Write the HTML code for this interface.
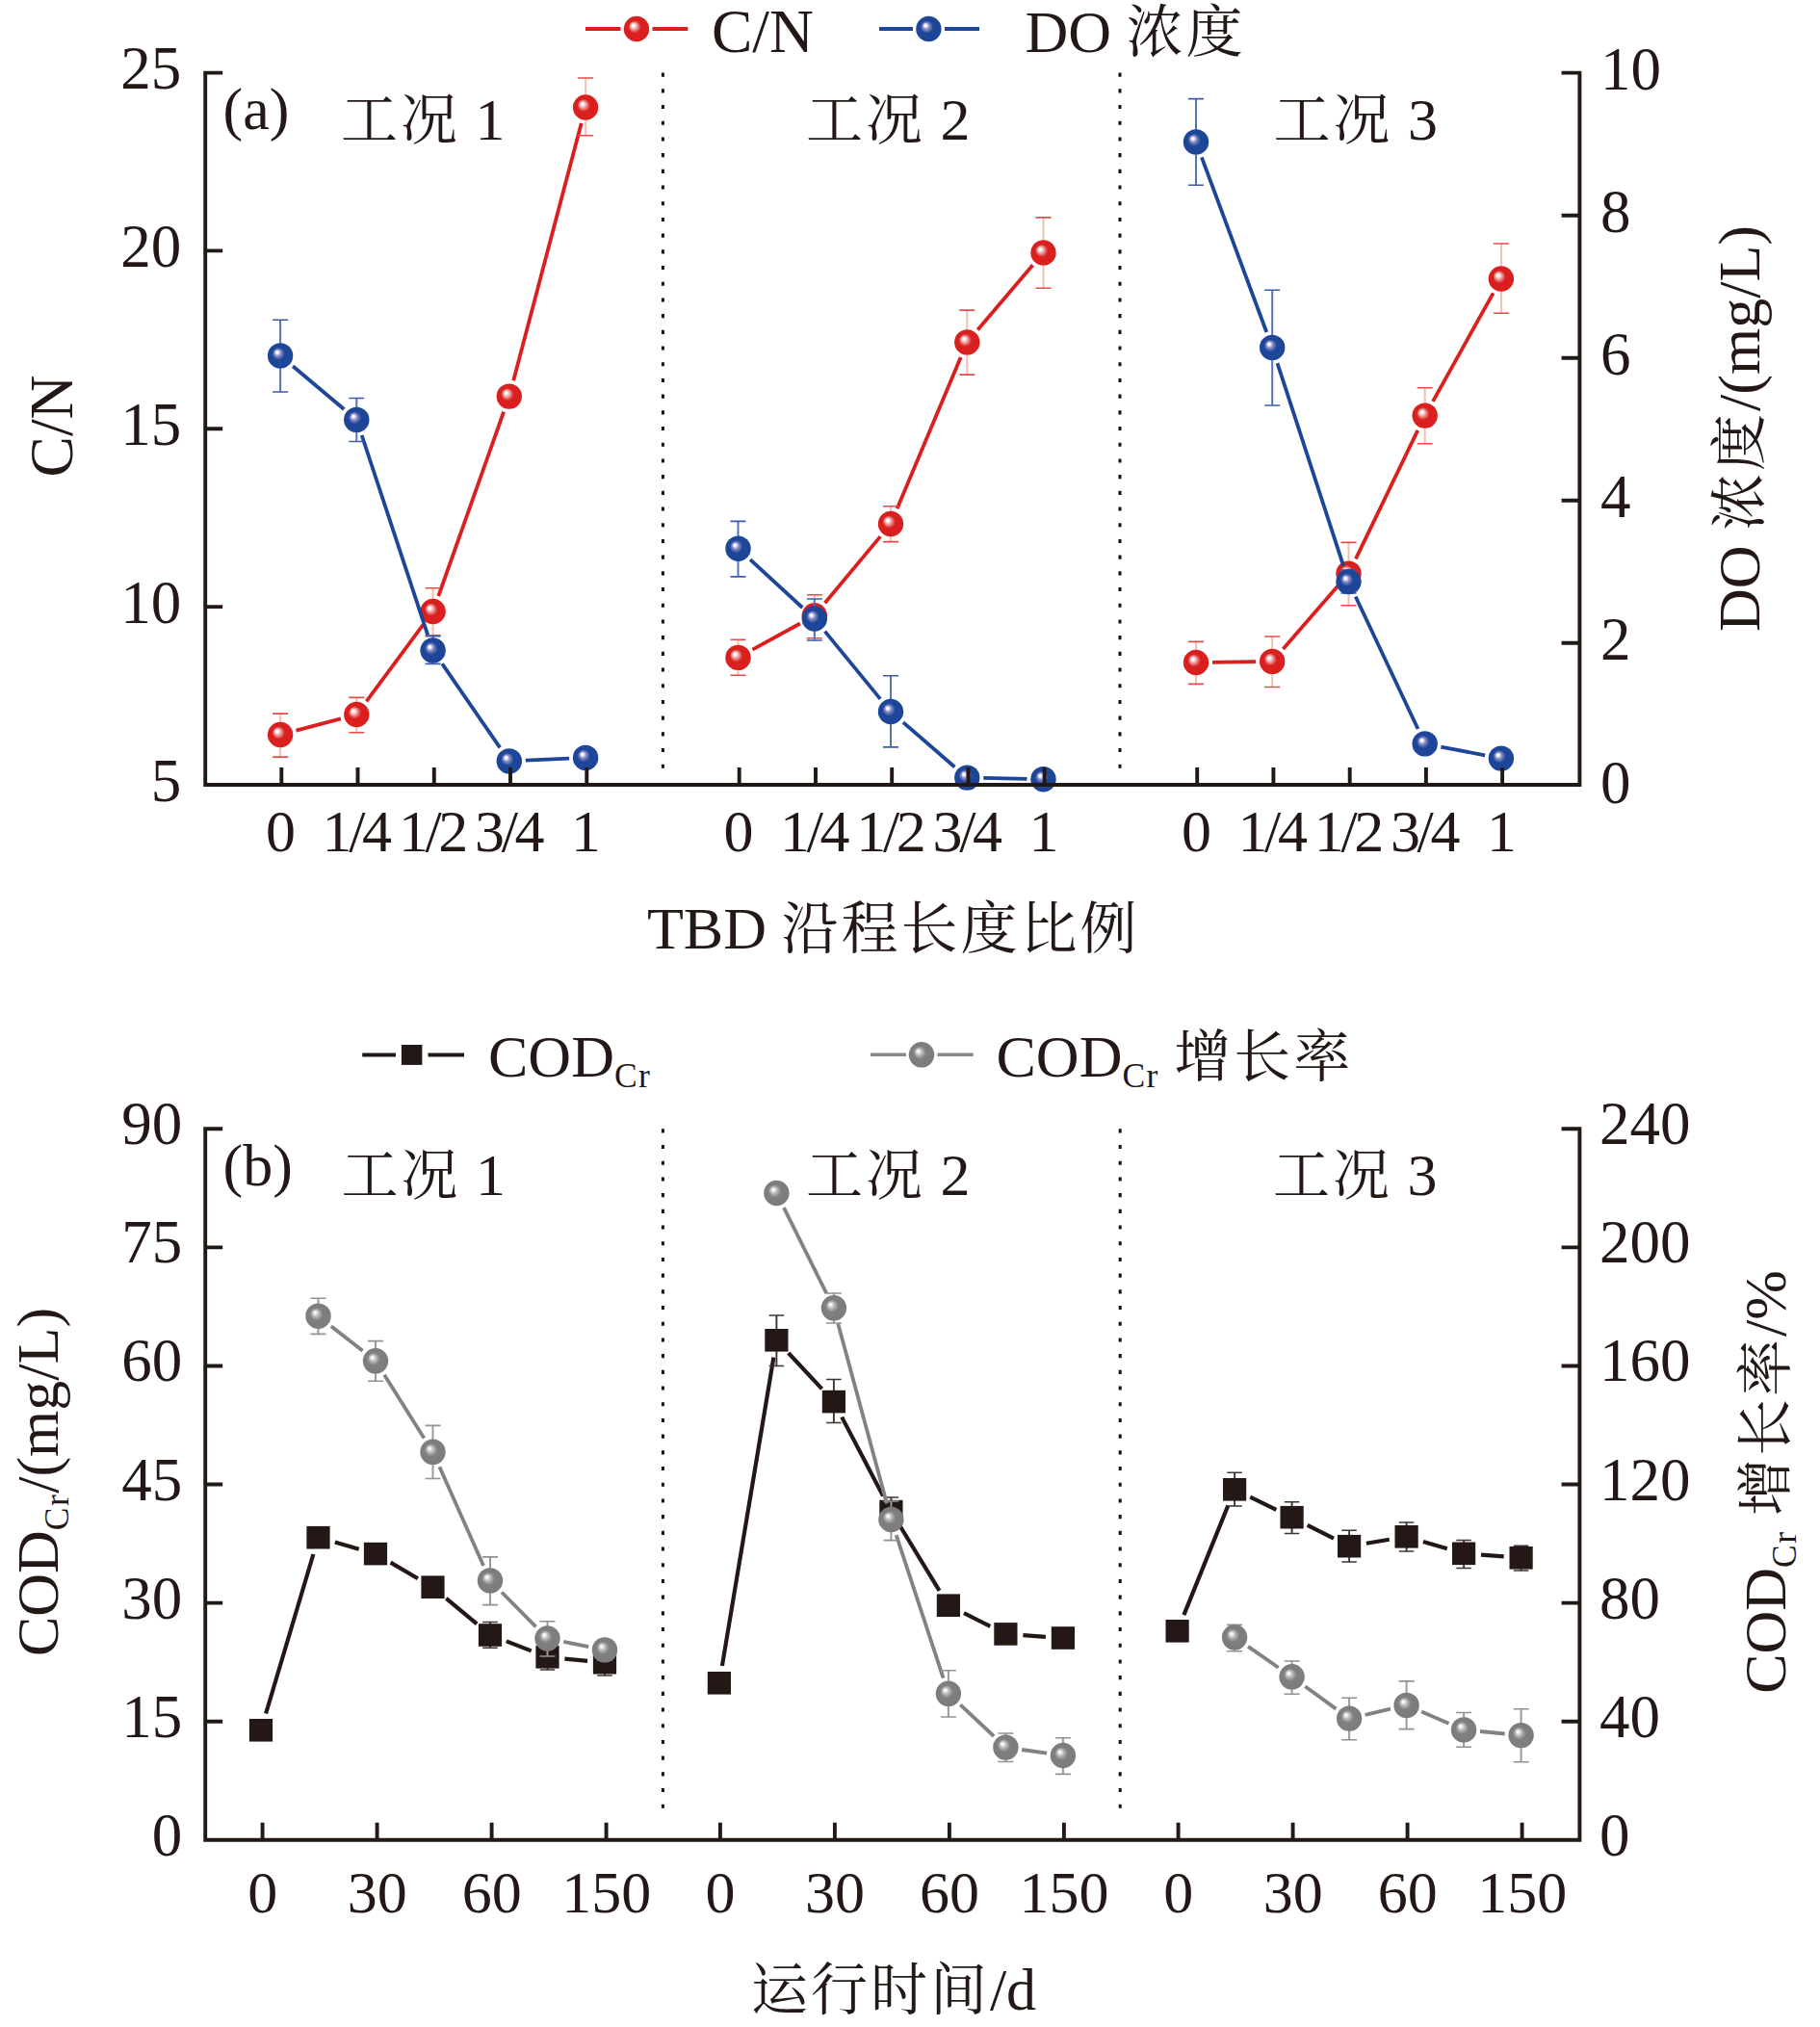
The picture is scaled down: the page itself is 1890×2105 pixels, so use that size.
<!DOCTYPE html>
<html lang="zh"><head><meta charset="utf-8"><title>C/N, DO, COD chart</title>
<style>html,body{margin:0;padding:0;background:#fff}svg{display:block}text{font-family:'Liberation Serif','Noto Serif CJK SC',serif;fill:#231815}</style></head><body>
<svg width="1890" height="2105" viewBox="0 0 1890 2105">
<rect width="1890" height="2105" fill="#fff"/>
<defs>
<radialGradient id="gr" cx="0.5" cy="0.5" r="0.5" fx="0.36" fy="0.35"><stop offset="0" stop-color="#ffffff"/><stop offset="0.09" stop-color="#ffffff"/><stop offset="0.25" stop-color="#f1a6a6"/><stop offset="0.5" stop-color="#d9201f"/><stop offset="1" stop-color="#d9201f"/></radialGradient>
<radialGradient id="gb" cx="0.5" cy="0.5" r="0.5" fx="0.36" fy="0.35"><stop offset="0" stop-color="#ffffff"/><stop offset="0.09" stop-color="#ffffff"/><stop offset="0.25" stop-color="#8f8fca"/><stop offset="0.5" stop-color="#1d4698"/><stop offset="1" stop-color="#1d4698"/></radialGradient>
<radialGradient id="gg" cx="0.5" cy="0.5" r="0.5" fx="0.36" fy="0.35"><stop offset="0" stop-color="#f6f6f6"/><stop offset="0.09" stop-color="#f6f6f6"/><stop offset="0.25" stop-color="#bcbcbc"/><stop offset="0.5" stop-color="#7f7f7f"/><stop offset="1" stop-color="#7c7c7c"/></radialGradient>
</defs>
<line x1="688.4" y1="75.6" x2="688.4" y2="800" stroke="#111" stroke-width="3" stroke-dasharray="4.1 12.6"/>
<line x1="1163" y1="75.6" x2="1163" y2="800" stroke="#111" stroke-width="3" stroke-dasharray="4.1 12.6"/>
<g>
<line x1="307.5" y1="758.6" x2="353.9" y2="746.4" stroke="#d9201f" stroke-width="3.8"/>
<line x1="380.5" y1="728.3" x2="439.5" y2="648.7" stroke="#d9201f" stroke-width="3.8"/>
<line x1="455.3" y1="619" x2="523.1" y2="427.6" stroke="#d9201f" stroke-width="3.8"/>
<line x1="533.2" y1="395.2" x2="603.7" y2="127.9" stroke="#d9201f" stroke-width="3.8"/>
<line x1="781.4" y1="674.7" x2="830.9" y2="647.5" stroke="#d9201f" stroke-width="3.8"/>
<line x1="856.6" y1="626.2" x2="914.2" y2="557.1" stroke="#d9201f" stroke-width="3.8"/>
<line x1="931.6" y1="528.3" x2="997.7" y2="371.1" stroke="#d9201f" stroke-width="3.8"/>
<line x1="1015.3" y1="342.5" x2="1072.5" y2="275.3" stroke="#d9201f" stroke-width="3.8"/>
<line x1="1259" y1="687.8" x2="1304.2" y2="687.1" stroke="#d9201f" stroke-width="3.8"/>
<line x1="1332.4" y1="674.1" x2="1389.3" y2="608.5" stroke="#d9201f" stroke-width="3.8"/>
<line x1="1407.9" y1="580.4" x2="1472.3" y2="446.9" stroke="#d9201f" stroke-width="3.8"/>
<line x1="1488" y1="416.8" x2="1550.7" y2="304.3" stroke="#d9201f" stroke-width="3.8"/>
<path d="M291.1 741.1V786.1" stroke="#f4bfae" stroke-width="2.0" fill="none"/>
<path d="M283.1 741.1H299.1M283.1 786.1H299.1" stroke="#e84a4c" stroke-width="1.6" fill="none"/>
<path d="M370.3 724.4V760.8" stroke="#f4bfae" stroke-width="2.0" fill="none"/>
<path d="M362.3 724.4H378.3M362.3 760.8H378.3" stroke="#e84a4c" stroke-width="1.6" fill="none"/>
<path d="M449.6 610.8V659.8" stroke="#f4bfae" stroke-width="2.0" fill="none"/>
<path d="M441.6 610.8H457.6M441.6 659.8H457.6" stroke="#e84a4c" stroke-width="1.6" fill="none"/>
<path d="M528.8 404V419" stroke="#f4bfae" stroke-width="2.0" fill="none"/>
<path d="M520.8 404H536.8M520.8 419H536.8" stroke="#e84a4c" stroke-width="1.6" fill="none"/>
<path d="M608.1 81V140.8" stroke="#f4bfae" stroke-width="2.0" fill="none"/>
<path d="M600.1 81H616.1M600.1 140.8H616.1" stroke="#e84a4c" stroke-width="1.6" fill="none"/>
<path d="M766.5 664.3V701.2" stroke="#f4bfae" stroke-width="2.0" fill="none"/>
<path d="M758.5 664.3H774.5M758.5 701.2H774.5" stroke="#e84a4c" stroke-width="1.6" fill="none"/>
<path d="M845.8 617.8V662.7" stroke="#f4bfae" stroke-width="2.0" fill="none"/>
<path d="M837.8 617.8H853.8M837.8 662.7H853.8" stroke="#e84a4c" stroke-width="1.6" fill="none"/>
<path d="M925 525.7V562.6" stroke="#f4bfae" stroke-width="2.0" fill="none"/>
<path d="M917 525.7H933M917 562.6H933" stroke="#e84a4c" stroke-width="1.6" fill="none"/>
<path d="M1004.3 322.1V389.1" stroke="#f4bfae" stroke-width="2.0" fill="none"/>
<path d="M996.3 322.1H1012.3M996.3 389.1H1012.3" stroke="#e84a4c" stroke-width="1.6" fill="none"/>
<path d="M1083.5 225.9V299.3" stroke="#f4bfae" stroke-width="2.0" fill="none"/>
<path d="M1075.5 225.9H1091.5M1075.5 299.3H1091.5" stroke="#e84a4c" stroke-width="1.6" fill="none"/>
<path d="M1242 666.4V710.4" stroke="#f4bfae" stroke-width="2.0" fill="none"/>
<path d="M1234 666.4H1250M1234 710.4H1250" stroke="#e84a4c" stroke-width="1.6" fill="none"/>
<path d="M1321.2 661V713.5" stroke="#f4bfae" stroke-width="2.0" fill="none"/>
<path d="M1313.2 661H1329.2M1313.2 713.5H1329.2" stroke="#e84a4c" stroke-width="1.6" fill="none"/>
<path d="M1400.5 563.4V628.8" stroke="#f4bfae" stroke-width="2.0" fill="none"/>
<path d="M1392.5 563.4H1408.5M1392.5 628.8H1408.5" stroke="#e84a4c" stroke-width="1.6" fill="none"/>
<path d="M1479.7 402.7V460.8" stroke="#f4bfae" stroke-width="2.0" fill="none"/>
<path d="M1471.7 402.7H1487.7M1471.7 460.8H1487.7" stroke="#e84a4c" stroke-width="1.6" fill="none"/>
<path d="M1558.9 253V325.2" stroke="#f4bfae" stroke-width="2.0" fill="none"/>
<path d="M1550.9 253H1566.9M1550.9 325.2H1566.9" stroke="#e84a4c" stroke-width="1.6" fill="none"/>
<circle cx="291.1" cy="763" r="13.2" fill="url(#gr)"/>
<circle cx="370.3" cy="742" r="13.2" fill="url(#gr)"/>
<circle cx="449.6" cy="635" r="13.2" fill="url(#gr)"/>
<circle cx="528.8" cy="411.6" r="13.2" fill="url(#gr)"/>
<circle cx="608.1" cy="111.5" r="13.2" fill="url(#gr)"/>
<circle cx="766.5" cy="682.9" r="13.2" fill="url(#gr)"/>
<circle cx="845.8" cy="639.3" r="13.2" fill="url(#gr)"/>
<circle cx="925" cy="544" r="13.2" fill="url(#gr)"/>
<circle cx="1004.3" cy="355.4" r="13.2" fill="url(#gr)"/>
<circle cx="1083.5" cy="262.4" r="13.2" fill="url(#gr)"/>
<circle cx="1242" cy="688" r="13.2" fill="url(#gr)"/>
<circle cx="1321.2" cy="686.9" r="13.2" fill="url(#gr)"/>
<circle cx="1400.5" cy="595.7" r="13.2" fill="url(#gr)"/>
<circle cx="1479.7" cy="431.6" r="13.2" fill="url(#gr)"/>
<circle cx="1558.9" cy="289.5" r="13.2" fill="url(#gr)"/>
</g>
<g>
<line x1="304.1" y1="380.3" x2="357.3" y2="425" stroke="#1d4698" stroke-width="3.8"/>
<line x1="375.7" y1="452" x2="444.2" y2="659.3" stroke="#1d4698" stroke-width="3.8"/>
<line x1="459.2" y1="689.4" x2="519.2" y2="776.4" stroke="#1d4698" stroke-width="3.8"/>
<line x1="545.8" y1="789.6" x2="591.1" y2="787.7" stroke="#1d4698" stroke-width="3.8"/>
<line x1="779.1" y1="581.2" x2="833.3" y2="631" stroke="#1d4698" stroke-width="3.8"/>
<line x1="856.6" y1="655.6" x2="914.2" y2="725.9" stroke="#1d4698" stroke-width="3.8"/>
<line x1="937.9" y1="750.1" x2="991.4" y2="796.5" stroke="#1d4698" stroke-width="3.8"/>
<line x1="1021.3" y1="807.9" x2="1066.5" y2="808.9" stroke="#1d4698" stroke-width="3.8"/>
<line x1="1247.9" y1="163.3" x2="1315.3" y2="345" stroke="#1d4698" stroke-width="3.8"/>
<line x1="1326.5" y1="377.1" x2="1395.2" y2="587.9" stroke="#1d4698" stroke-width="3.8"/>
<line x1="1407.7" y1="619.5" x2="1472.5" y2="757" stroke="#1d4698" stroke-width="3.8"/>
<line x1="1496.4" y1="775.6" x2="1542.2" y2="784.4" stroke="#1d4698" stroke-width="3.8"/>
<path d="M291.1 332.3V407" stroke="#5573b8" stroke-width="2.0" fill="none"/>
<path d="M283.1 332.3H299.1M283.1 407H299.1" stroke="#3a5cab" stroke-width="1.6" fill="none"/>
<path d="M370.3 413.5V458.5" stroke="#5573b8" stroke-width="2.0" fill="none"/>
<path d="M362.3 413.5H378.3M362.3 458.5H378.3" stroke="#3a5cab" stroke-width="1.6" fill="none"/>
<path d="M449.6 660.6V689.4" stroke="#5573b8" stroke-width="2.0" fill="none"/>
<path d="M441.6 660.6H457.6M441.6 689.4H457.6" stroke="#3a5cab" stroke-width="1.6" fill="none"/>
<path d="M766.5 541.4V598.9" stroke="#5573b8" stroke-width="2.0" fill="none"/>
<path d="M758.5 541.4H774.5M758.5 598.9H774.5" stroke="#3a5cab" stroke-width="1.6" fill="none"/>
<path d="M845.8 622V665" stroke="#5573b8" stroke-width="2.0" fill="none"/>
<path d="M837.8 622H853.8M837.8 665H853.8" stroke="#3a5cab" stroke-width="1.6" fill="none"/>
<path d="M925 701.8V775.9" stroke="#5573b8" stroke-width="2.0" fill="none"/>
<path d="M917 701.8H933M917 775.9H933" stroke="#3a5cab" stroke-width="1.6" fill="none"/>
<path d="M1242 102.6V192.2" stroke="#5573b8" stroke-width="2.0" fill="none"/>
<path d="M1234 102.6H1250M1234 192.2H1250" stroke="#3a5cab" stroke-width="1.6" fill="none"/>
<path d="M1321.2 301.3V421" stroke="#5573b8" stroke-width="2.0" fill="none"/>
<path d="M1313.2 301.3H1329.2M1313.2 421H1329.2" stroke="#3a5cab" stroke-width="1.6" fill="none"/>
<path d="M1400.5 592V616" stroke="#5573b8" stroke-width="2.0" fill="none"/>
<path d="M1392.5 592H1408.5M1392.5 616H1408.5" stroke="#3a5cab" stroke-width="1.6" fill="none"/>
<circle cx="291.1" cy="369.4" r="13.2" fill="url(#gb)"/>
<circle cx="370.3" cy="435.9" r="13.2" fill="url(#gb)"/>
<circle cx="449.6" cy="675.4" r="13.2" fill="url(#gb)"/>
<circle cx="528.8" cy="790.4" r="13.2" fill="url(#gb)"/>
<circle cx="608.1" cy="786.9" r="13.2" fill="url(#gb)"/>
<circle cx="766.5" cy="569.7" r="13.2" fill="url(#gb)"/>
<circle cx="845.8" cy="642.5" r="13.2" fill="url(#gb)"/>
<circle cx="925" cy="739" r="13.2" fill="url(#gb)"/>
<circle cx="1004.3" cy="807.6" r="13.2" fill="url(#gb)"/>
<circle cx="1083.5" cy="809.2" r="13.2" fill="url(#gb)"/>
<circle cx="1242" cy="147.4" r="13.2" fill="url(#gb)"/>
<circle cx="1321.2" cy="360.9" r="13.2" fill="url(#gb)"/>
<circle cx="1400.5" cy="604.1" r="13.2" fill="url(#gb)"/>
<circle cx="1479.7" cy="772.4" r="13.2" fill="url(#gb)"/>
<circle cx="1558.9" cy="787.6" r="13.2" fill="url(#gb)"/>
</g>
<g stroke="#231815" stroke-width="3.9" fill="none" stroke-linecap="butt">
<path d="M231.2 75.6H213.2V815H1640.4V75.6H1621.6"/>
<path d="M213.2 260.4h18M213.2 445.3h18M213.2 630.1h18M1640.4 223.7h-18.8M1640.4 371.7h-18.8M1640.4 519.8h-18.8M1640.4 667.8h-18.8M292.3 815v-18M371.5 815v-18M450.8 815v-18M530 815v-18M609.3 815v-18M767.7 815v-18M847 815v-18M926.2 815v-18M1005.5 815v-18M1084.7 815v-18M1243.2 815v-18M1322.4 815v-18M1401.7 815v-18M1480.9 815v-18M1560.1 815v-18"/>
</g>
<text x="188.3" y="92.4" font-size="63" text-anchor="end">25</text>
<text x="188.3" y="277.2" font-size="63" text-anchor="end">20</text>
<text x="188.3" y="462.1" font-size="63" text-anchor="end">15</text>
<text x="188.3" y="646.9" font-size="63" text-anchor="end">10</text>
<text x="188.3" y="831.8" font-size="63" text-anchor="end">5</text>
<text x="1662" y="93.2" font-size="63" text-anchor="start">10</text>
<text x="1662" y="241.2" font-size="63" text-anchor="start">8</text>
<text x="1662" y="389.3" font-size="63" text-anchor="start">6</text>
<text x="1662" y="537.4" font-size="63" text-anchor="start">4</text>
<text x="1662" y="685.4" font-size="63" text-anchor="start">2</text>
<text x="1662" y="833.5" font-size="63" text-anchor="start">0</text>
<text x="291.6" y="884.3" font-size="62" text-anchor="middle">0</text>
<text x="369.1" y="884.3" font-size="62" text-anchor="middle" letter-spacing="-3.4">1/4</text>
<text x="448.4" y="884.3" font-size="62" text-anchor="middle" letter-spacing="-3.4">1/2</text>
<text x="527.6" y="884.3" font-size="62" text-anchor="middle" letter-spacing="-3.4">3/4</text>
<text x="608.6" y="884.3" font-size="62" text-anchor="middle">1</text>
<text x="767" y="884.3" font-size="62" text-anchor="middle">0</text>
<text x="844.6" y="884.3" font-size="62" text-anchor="middle" letter-spacing="-3.4">1/4</text>
<text x="923.8" y="884.3" font-size="62" text-anchor="middle" letter-spacing="-3.4">1/2</text>
<text x="1003.1" y="884.3" font-size="62" text-anchor="middle" letter-spacing="-3.4">3/4</text>
<text x="1084" y="884.3" font-size="62" text-anchor="middle">1</text>
<text x="1242.5" y="884.3" font-size="62" text-anchor="middle">0</text>
<text x="1320" y="884.3" font-size="62" text-anchor="middle" letter-spacing="-3.4">1/4</text>
<text x="1399.3" y="884.3" font-size="62" text-anchor="middle" letter-spacing="-3.4">1/2</text>
<text x="1478.5" y="884.3" font-size="62" text-anchor="middle" letter-spacing="-3.4">3/4</text>
<text x="1559.4" y="884.3" font-size="62" text-anchor="middle">1</text>
<text x="231.5" y="134.3" font-size="62" text-anchor="start">(a)</text>
<text x="354" y="145" font-size="62" text-anchor="start"><tspan font-size="59" letter-spacing="3">工况</tspan> 1</text>
<text x="837" y="145" font-size="62" text-anchor="start"><tspan font-size="59" letter-spacing="3">工况</tspan> 2</text>
<text x="1322.5" y="145" font-size="62" text-anchor="start"><tspan font-size="59" letter-spacing="3">工况</tspan> 3</text>
<text x="927.7" y="985" font-size="62" text-anchor="middle">TBD <tspan font-size="59" letter-spacing="3">沿程长度比例</tspan></text>
<text font-size="63.5" text-anchor="middle" transform="translate(75.3 442.5) rotate(-90)">C/N</text>
<text font-size="62" text-anchor="middle" transform="translate(1827 445) rotate(-90)">DO <tspan font-size="59" letter-spacing="3">浓度</tspan>/(mg/L)</text>
<path d="M608 30H644.5M677.5 30H714.3" stroke="#d9201f" stroke-width="3.8"/>
<circle cx="661" cy="30" r="13.2" fill="url(#gr)"/>
<text x="739" y="54.3" font-size="63.5" text-anchor="start">C/N</text>
<path d="M913 30H948M981 30H1017" stroke="#1d4698" stroke-width="3.8"/>
<circle cx="964.4" cy="30" r="13.2" fill="url(#gb)"/>
<text x="1064.5" y="54" font-size="62" text-anchor="start">DO <tspan font-size="59" letter-spacing="3">浓度</tspan></text>
<line x1="688.4" y1="1172.3" x2="688.4" y2="1882" stroke="#111" stroke-width="3" stroke-dasharray="4.1 12.6"/>
<line x1="1163.2" y1="1172.3" x2="1163.2" y2="1882" stroke="#111" stroke-width="3" stroke-dasharray="4.1 12.6"/>
<g>
<line x1="276.1" y1="1779.5" x2="325.4" y2="1614" stroke="#231815" stroke-width="4.2"/>
<line x1="347.8" y1="1601.6" x2="372.7" y2="1608.7" stroke="#231815" stroke-width="4.2"/>
<line x1="405.6" y1="1622.6" x2="433.9" y2="1639.2" stroke="#231815" stroke-width="4.2"/>
<line x1="463.3" y1="1659.8" x2="495.2" y2="1686.4" stroke="#231815" stroke-width="4.2"/>
<line x1="525.8" y1="1704.4" x2="551.7" y2="1714.4" stroke="#231815" stroke-width="4.2"/>
<line x1="586.4" y1="1722.6" x2="610.1" y2="1724.9" stroke="#231815" stroke-width="4.2"/>
<line x1="749.9" y1="1730" x2="803.4" y2="1409.6" stroke="#231815" stroke-width="4.2"/>
<line x1="818.7" y1="1405" x2="853.6" y2="1442.4" stroke="#231815" stroke-width="4.2"/>
<line x1="874.2" y1="1471.6" x2="917.1" y2="1553.6" stroke="#231815" stroke-width="4.2"/>
<line x1="934.8" y1="1585" x2="975.5" y2="1651.8" stroke="#231815" stroke-width="4.2"/>
<line x1="1001" y1="1675.2" x2="1028.3" y2="1688.9" stroke="#231815" stroke-width="4.2"/>
<line x1="1062.4" y1="1698.1" x2="1085.9" y2="1699.8" stroke="#231815" stroke-width="4.2"/>
<line x1="1229.4" y1="1677.1" x2="1275.3" y2="1563.5" stroke="#231815" stroke-width="4.2"/>
<line x1="1298.3" y1="1554.7" x2="1325.4" y2="1567.8" stroke="#231815" stroke-width="4.2"/>
<line x1="1357.7" y1="1583.8" x2="1385" y2="1597.6" stroke="#231815" stroke-width="4.2"/>
<line x1="1418.9" y1="1602.7" x2="1442.8" y2="1598.8" stroke="#231815" stroke-width="4.2"/>
<line x1="1477.9" y1="1600.9" x2="1502.8" y2="1608.2" stroke="#231815" stroke-width="4.2"/>
<line x1="1538" y1="1614.7" x2="1561.7" y2="1616.4" stroke="#231815" stroke-width="4.2"/>
<path d="M509 1684.6V1711.3" stroke="#3d3533" stroke-width="1.9" fill="none"/>
<path d="M501.2 1684.6H516.8M501.2 1711.3H516.8" stroke="#3d3533" stroke-width="1.5" fill="none"/>
<path d="M568.5 1707.5V1734" stroke="#3d3533" stroke-width="1.9" fill="none"/>
<path d="M560.8 1707.5H576.2M560.8 1734H576.2" stroke="#3d3533" stroke-width="1.5" fill="none"/>
<path d="M628 1713.5V1740" stroke="#3d3533" stroke-width="1.9" fill="none"/>
<path d="M620.2 1713.5H635.8M620.2 1740H635.8" stroke="#3d3533" stroke-width="1.5" fill="none"/>
<path d="M806.4 1365.9V1418.4" stroke="#3d3533" stroke-width="1.9" fill="none"/>
<path d="M798.6 1365.9H814.1M798.6 1418.4H814.1" stroke="#3d3533" stroke-width="1.5" fill="none"/>
<path d="M865.9 1432.4V1477.6" stroke="#3d3533" stroke-width="1.9" fill="none"/>
<path d="M858.1 1432.4H873.6M858.1 1477.6H873.6" stroke="#3d3533" stroke-width="1.5" fill="none"/>
<path d="M925.4 1555V1584" stroke="#3d3533" stroke-width="1.9" fill="none"/>
<path d="M917.6 1555H933.1M917.6 1584H933.1" stroke="#3d3533" stroke-width="1.5" fill="none"/>
<path d="M1282.1 1529.3V1563.9" stroke="#3d3533" stroke-width="1.9" fill="none"/>
<path d="M1274.3 1529.3H1289.8M1274.3 1563.9H1289.8" stroke="#3d3533" stroke-width="1.5" fill="none"/>
<path d="M1341.6 1559.7V1592.4" stroke="#3d3533" stroke-width="1.9" fill="none"/>
<path d="M1333.8 1559.7H1349.3M1333.8 1592.4H1349.3" stroke="#3d3533" stroke-width="1.5" fill="none"/>
<path d="M1401.1 1589.3V1622" stroke="#3d3533" stroke-width="1.9" fill="none"/>
<path d="M1393.3 1589.3H1408.8M1393.3 1622H1408.8" stroke="#3d3533" stroke-width="1.5" fill="none"/>
<path d="M1460.6 1581V1611" stroke="#3d3533" stroke-width="1.9" fill="none"/>
<path d="M1452.8 1581H1468.3M1452.8 1611H1468.3" stroke="#3d3533" stroke-width="1.5" fill="none"/>
<path d="M1520.1 1599.6V1628.5" stroke="#3d3533" stroke-width="1.9" fill="none"/>
<path d="M1512.3 1599.6H1527.8M1512.3 1628.5H1527.8" stroke="#3d3533" stroke-width="1.5" fill="none"/>
<path d="M1579.6 1605.3V1631.1" stroke="#3d3533" stroke-width="1.9" fill="none"/>
<path d="M1571.8 1605.3H1587.3M1571.8 1631.1H1587.3" stroke="#3d3533" stroke-width="1.5" fill="none"/>
<rect x="258.9" y="1785" width="24.2" height="23.599999999999998" fill="#231815"/>
<rect x="318.4" y="1584.9" width="24.2" height="23.599999999999998" fill="#231815"/>
<rect x="377.9" y="1601.8" width="24.2" height="23.599999999999998" fill="#231815"/>
<rect x="437.4" y="1636.4" width="24.2" height="23.599999999999998" fill="#231815"/>
<rect x="496.9" y="1686.2" width="24.2" height="23.599999999999998" fill="#231815"/>
<rect x="556.4" y="1709" width="24.2" height="23.599999999999998" fill="#231815"/>
<rect x="615.9" y="1714.9" width="24.2" height="23.599999999999998" fill="#231815"/>
<rect x="734.8" y="1736" width="24.2" height="23.599999999999998" fill="#231815"/>
<rect x="794.3" y="1380" width="24.2" height="23.599999999999998" fill="#231815"/>
<rect x="853.8" y="1443.8" width="24.2" height="23.599999999999998" fill="#231815"/>
<rect x="913.3" y="1557.8" width="24.2" height="23.599999999999998" fill="#231815"/>
<rect x="972.8" y="1655.4" width="24.2" height="23.599999999999998" fill="#231815"/>
<rect x="1032.3" y="1685.1" width="24.2" height="23.599999999999998" fill="#231815"/>
<rect x="1091.8" y="1689.2" width="24.2" height="23.599999999999998" fill="#231815"/>
<rect x="1210.5" y="1682" width="24.2" height="23.599999999999998" fill="#231815"/>
<rect x="1270" y="1535" width="24.2" height="23.599999999999998" fill="#231815"/>
<rect x="1329.5" y="1563.9" width="24.2" height="23.599999999999998" fill="#231815"/>
<rect x="1389" y="1593.9" width="24.2" height="23.599999999999998" fill="#231815"/>
<rect x="1448.5" y="1584" width="24.2" height="23.599999999999998" fill="#231815"/>
<rect x="1508" y="1601.5" width="24.2" height="23.599999999999998" fill="#231815"/>
<rect x="1567.5" y="1606" width="24.2" height="23.599999999999998" fill="#231815"/>
</g>
<g>
<line x1="343.9" y1="1377.2" x2="376.6" y2="1402.8" stroke="#828282" stroke-width="3.8"/>
<line x1="399.1" y1="1427.7" x2="440.4" y2="1493.4" stroke="#828282" stroke-width="3.8"/>
<line x1="456.4" y1="1523.3" x2="502.1" y2="1625.9" stroke="#828282" stroke-width="3.8"/>
<line x1="521" y1="1653.5" x2="556.5" y2="1689.4" stroke="#828282" stroke-width="3.8"/>
<line x1="585.2" y1="1704.8" x2="611.3" y2="1710.1" stroke="#828282" stroke-width="3.8"/>
<line x1="814" y1="1254.2" x2="858.3" y2="1343.1" stroke="#828282" stroke-width="3.8"/>
<line x1="870.3" y1="1374.7" x2="921" y2="1561.6" stroke="#828282" stroke-width="3.8"/>
<line x1="930.7" y1="1594.1" x2="979.6" y2="1742.7" stroke="#828282" stroke-width="3.8"/>
<line x1="997.3" y1="1770.4" x2="1032" y2="1803" stroke="#828282" stroke-width="3.8"/>
<line x1="1061.2" y1="1817" x2="1087.1" y2="1820.6" stroke="#828282" stroke-width="3.8"/>
<line x1="1296.1" y1="1709.9" x2="1327.6" y2="1731.7" stroke="#828282" stroke-width="3.8"/>
<line x1="1355.3" y1="1751.3" x2="1387.4" y2="1774.6" stroke="#828282" stroke-width="3.8"/>
<line x1="1417.7" y1="1780.8" x2="1444" y2="1774.7" stroke="#828282" stroke-width="3.8"/>
<line x1="1476.2" y1="1777.6" x2="1504.5" y2="1789.7" stroke="#828282" stroke-width="3.8"/>
<line x1="1537" y1="1798" x2="1562.7" y2="1800.5" stroke="#828282" stroke-width="3.8"/>
<path d="M330.5 1348.2V1385.4" stroke="#9a9a9a" stroke-width="2.0" fill="none"/>
<path d="M322.5 1348.2H338.5M322.5 1385.4H338.5" stroke="#929292" stroke-width="1.6" fill="none"/>
<path d="M390 1392.6V1434.2" stroke="#9a9a9a" stroke-width="2.0" fill="none"/>
<path d="M382 1392.6H398M382 1434.2H398" stroke="#929292" stroke-width="1.6" fill="none"/>
<path d="M449.5 1480.4V1535.5" stroke="#9a9a9a" stroke-width="2.0" fill="none"/>
<path d="M441.5 1480.4H457.5M441.5 1535.5H457.5" stroke="#929292" stroke-width="1.6" fill="none"/>
<path d="M509 1616.9V1666.6" stroke="#9a9a9a" stroke-width="2.0" fill="none"/>
<path d="M501 1616.9H517M501 1666.6H517" stroke="#929292" stroke-width="1.6" fill="none"/>
<path d="M568.5 1683.8V1720" stroke="#9a9a9a" stroke-width="2.0" fill="none"/>
<path d="M560.5 1683.8H576.5M560.5 1720H576.5" stroke="#929292" stroke-width="1.6" fill="none"/>
<path d="M628 1703V1724" stroke="#9a9a9a" stroke-width="2.0" fill="none"/>
<path d="M620 1703H636M620 1724H636" stroke="#929292" stroke-width="1.6" fill="none"/>
<path d="M865.9 1343V1374" stroke="#9a9a9a" stroke-width="2.0" fill="none"/>
<path d="M857.9 1343H873.9M857.9 1374H873.9" stroke="#929292" stroke-width="1.6" fill="none"/>
<path d="M925.4 1559V1599.6" stroke="#9a9a9a" stroke-width="2.0" fill="none"/>
<path d="M917.4 1559H933.4M917.4 1599.6H933.4" stroke="#929292" stroke-width="1.6" fill="none"/>
<path d="M984.9 1734.8V1783" stroke="#9a9a9a" stroke-width="2.0" fill="none"/>
<path d="M976.9 1734.8H992.9M976.9 1783H992.9" stroke="#929292" stroke-width="1.6" fill="none"/>
<path d="M1044.4 1800V1829.5" stroke="#9a9a9a" stroke-width="2.0" fill="none"/>
<path d="M1036.4 1800H1052.4M1036.4 1829.5H1052.4" stroke="#929292" stroke-width="1.6" fill="none"/>
<path d="M1103.9 1804.8V1842.4" stroke="#9a9a9a" stroke-width="2.0" fill="none"/>
<path d="M1095.9 1804.8H1111.9M1095.9 1842.4H1111.9" stroke="#929292" stroke-width="1.6" fill="none"/>
<path d="M1282.1 1687.4V1714.7" stroke="#9a9a9a" stroke-width="2.0" fill="none"/>
<path d="M1274.1 1687.4H1290.1M1274.1 1714.7H1290.1" stroke="#929292" stroke-width="1.6" fill="none"/>
<path d="M1341.6 1725V1759.2" stroke="#9a9a9a" stroke-width="2.0" fill="none"/>
<path d="M1333.6 1725H1349.6M1333.6 1759.2H1349.6" stroke="#929292" stroke-width="1.6" fill="none"/>
<path d="M1401.1 1763.3V1806.7" stroke="#9a9a9a" stroke-width="2.0" fill="none"/>
<path d="M1393.1 1763.3H1409.1M1393.1 1806.7H1409.1" stroke="#929292" stroke-width="1.6" fill="none"/>
<path d="M1460.6 1745.9V1795.6" stroke="#9a9a9a" stroke-width="2.0" fill="none"/>
<path d="M1452.6 1745.9H1468.6M1452.6 1795.6H1468.6" stroke="#929292" stroke-width="1.6" fill="none"/>
<path d="M1520.1 1778.5V1814.3" stroke="#9a9a9a" stroke-width="2.0" fill="none"/>
<path d="M1512.1 1778.5H1528.1M1512.1 1814.3H1528.1" stroke="#929292" stroke-width="1.6" fill="none"/>
<path d="M1579.6 1774.7V1829.8" stroke="#9a9a9a" stroke-width="2.0" fill="none"/>
<path d="M1571.6 1774.7H1587.6M1571.6 1829.8H1587.6" stroke="#929292" stroke-width="1.6" fill="none"/>
<circle cx="330.5" cy="1366.7" r="13.2" fill="url(#gg)"/>
<circle cx="390" cy="1413.3" r="13.2" fill="url(#gg)"/>
<circle cx="449.5" cy="1507.8" r="13.2" fill="url(#gg)"/>
<circle cx="509" cy="1641.4" r="13.2" fill="url(#gg)"/>
<circle cx="568.5" cy="1701.5" r="13.2" fill="url(#gg)"/>
<circle cx="628" cy="1713.4" r="13.2" fill="url(#gg)"/>
<circle cx="806.4" cy="1239" r="13.2" fill="url(#gg)"/>
<circle cx="865.9" cy="1358.3" r="13.2" fill="url(#gg)"/>
<circle cx="925.4" cy="1578" r="13.2" fill="url(#gg)"/>
<circle cx="984.9" cy="1758.8" r="13.2" fill="url(#gg)"/>
<circle cx="1044.4" cy="1814.6" r="13.2" fill="url(#gg)"/>
<circle cx="1103.9" cy="1823" r="13.2" fill="url(#gg)"/>
<circle cx="1282.1" cy="1700.3" r="13.2" fill="url(#gg)"/>
<circle cx="1341.6" cy="1741.3" r="13.2" fill="url(#gg)"/>
<circle cx="1401.1" cy="1784.6" r="13.2" fill="url(#gg)"/>
<circle cx="1460.6" cy="1770.9" r="13.2" fill="url(#gg)"/>
<circle cx="1520.1" cy="1796.4" r="13.2" fill="url(#gg)"/>
<circle cx="1579.6" cy="1802.1" r="13.2" fill="url(#gg)"/>
</g>
<g stroke="#231815" stroke-width="3.9" fill="none" stroke-linecap="butt">
<path d="M231.2 1172.3H213.2V1910.8H1640.4V1172.3H1621.6"/>
<path d="M213.2 1295.4h18M1640.4 1295.4h-18.8M213.2 1418.5h18M1640.4 1418.5h-18.8M213.2 1541.5h18M1640.4 1541.5h-18.8M213.2 1664.6h18M1640.4 1664.6h-18.8M213.2 1787.7h18M1640.4 1787.7h-18.8M272.6 1910.8v-18M391.6 1910.8v-18M510.6 1910.8v-18M629.6 1910.8v-18M747.9 1910.8v-18M866.9 1910.8v-18M985.9 1910.8v-18M1104.9 1910.8v-18M1223.6 1910.8v-18M1342.6 1910.8v-18M1461.6 1910.8v-18M1580.6 1910.8v-18"/>
</g>
<text x="189.3" y="1188.2" font-size="63" text-anchor="end">90</text>
<text x="189.3" y="1311.3" font-size="63" text-anchor="end">75</text>
<text x="189.3" y="1434.4" font-size="63" text-anchor="end">60</text>
<text x="189.3" y="1557.5" font-size="63" text-anchor="end">45</text>
<text x="189.3" y="1680.5" font-size="63" text-anchor="end">30</text>
<text x="189.3" y="1803.6" font-size="63" text-anchor="end">15</text>
<text x="189.3" y="1926.7" font-size="63" text-anchor="end">0</text>
<text x="1661" y="1188.2" font-size="63" text-anchor="start">240</text>
<text x="1661" y="1311.3" font-size="63" text-anchor="start">200</text>
<text x="1661" y="1434.4" font-size="63" text-anchor="start">160</text>
<text x="1661" y="1557.5" font-size="63" text-anchor="start">120</text>
<text x="1661" y="1680.5" font-size="63" text-anchor="start">80</text>
<text x="1661" y="1803.6" font-size="63" text-anchor="start">40</text>
<text x="1661" y="1926.7" font-size="63" text-anchor="start">0</text>
<text x="272.8" y="1986.3" font-size="62" text-anchor="middle">0</text>
<text x="391.8" y="1986.3" font-size="62" text-anchor="middle">30</text>
<text x="510.8" y="1986.3" font-size="62" text-anchor="middle">60</text>
<text x="629.8" y="1986.3" font-size="62" text-anchor="middle">150</text>
<text x="748.1" y="1986.3" font-size="62" text-anchor="middle">0</text>
<text x="867.1" y="1986.3" font-size="62" text-anchor="middle">30</text>
<text x="986.1" y="1986.3" font-size="62" text-anchor="middle">60</text>
<text x="1105.1" y="1986.3" font-size="62" text-anchor="middle">150</text>
<text x="1223.8" y="1986.3" font-size="62" text-anchor="middle">0</text>
<text x="1342.8" y="1986.3" font-size="62" text-anchor="middle">30</text>
<text x="1461.8" y="1986.3" font-size="62" text-anchor="middle">60</text>
<text x="1580.8" y="1986.3" font-size="62" text-anchor="middle">150</text>
<text x="231.5" y="1230.5" font-size="62" text-anchor="start">(b)</text>
<text x="354.5" y="1241.3" font-size="62" text-anchor="start"><tspan font-size="59" letter-spacing="3">工况</tspan> 1</text>
<text x="837" y="1241.3" font-size="62" text-anchor="start"><tspan font-size="59" letter-spacing="3">工况</tspan> 2</text>
<text x="1322" y="1241.3" font-size="62" text-anchor="start"><tspan font-size="59" letter-spacing="3">工况</tspan> 3</text>
<text x="928" y="2086.5" font-size="62" text-anchor="middle"><tspan font-size="59" letter-spacing="3">运行时间</tspan>/d</text>
<text font-size="62" text-anchor="middle" transform="translate(59.5 1539) rotate(-90)">COD<tspan font-size="35.5" letter-spacing="1.4" dy="11.5">Cr</tspan><tspan dy="-11.5">/(mg/L)</tspan></text>
<text font-size="62" text-anchor="middle" transform="translate(1853.5 1539) rotate(-90)">COD<tspan font-size="35.5" letter-spacing="1.4" dy="11.5">Cr</tspan><tspan dy="-11.5"> </tspan><tspan font-size="59" letter-spacing="3">增长率</tspan>/%</text>
<path d="M376.2 1095.4H411M444.5 1095.4H482" stroke="#231815" stroke-width="4"/>
<rect x="416.9" y="1085" width="21.5" height="20.9" fill="#231815"/>
<text x="507" y="1117.7" font-size="62">COD<tspan font-size="35.5" letter-spacing="1.4" dy="11.5">Cr</tspan></text>
<path d="M904 1095.3H941M973.5 1095.3H1010.8" stroke="#8a8a8a" stroke-width="3.4"/>
<circle cx="957" cy="1095.3" r="13.2" fill="url(#gg)"/>
<text x="1034.5" y="1117.7" font-size="62">COD<tspan font-size="35.5" letter-spacing="1.4" dy="11.5">Cr</tspan><tspan dy="-11.5"> </tspan><tspan font-size="59" letter-spacing="3">增长率</tspan></text>
</svg></body></html>
